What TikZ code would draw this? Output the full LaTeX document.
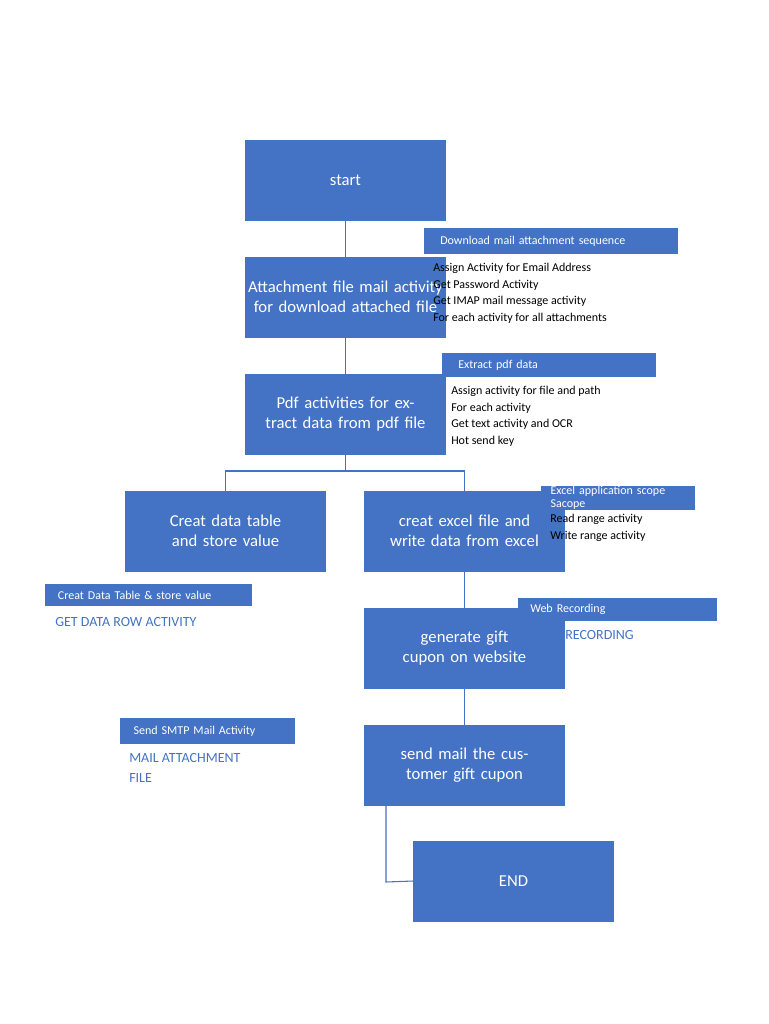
\documentclass[tikz,border=0pt]{standalone}
\usepackage{fontspec}
\setmainfont{Carlito}
\begin{document}
\begin{tikzpicture}[x=0.75pt,y=-0.75pt]
    % Define colors
    \definecolor{boxblue}{RGB}{68,114,196}

    % Define styles
    \tikzstyle{stage} = [rectangle, fill=boxblue, draw=boxblue, minimum width=146pt, minimum height=60pt, text width=150pt, align=center, inner sep=0pt, text=white, font=\fontsize{12.5}{15}\selectfont]
    \tikzstyle{tag} = [rectangle, fill=boxblue, anchor=north west, inner sep=0pt, text=white, font=\fontsize{9}{10}\selectfont]
    \tikzstyle{note} = [anchor=north west, inner sep=0pt, align=left, font=\fontsize{9}{12.4}\selectfont]
    \tikzstyle{blue note} = [note, text=boxblue, font=\fontsize{10.5}{15}\selectfont]
    \tikzstyle{link} = [draw=boxblue, thick]

    \useasboundingbox (0,0) rectangle (768,1024);

    % Main steps
    \node[stage] (start) at (345.5,180) {start};
    \node[stage] (attach) at (345.5,297) {Attachment file mail activity for download attached file};
    \node[stage] (pdf) at (345.5,414) {Pdf activities for extract data from pdf file};
    \node[stage] (table) at (225.5,531) {Creat data table and store value};
    \node[stage] (excel) at (464.5,531) {creat excel file and write data from excel};
    \node[stage] (gift) at (464.5,648) {generate gift cupon on website};
    \node[stage] (mail) at (464.5,765) {send mail the customer gift cupon};
    \node[stage] (end) at (513.5,881) {END};
    \coordinate (split) at (345.5,471);
    \coordinate (bend) at (386,882);

    % Connectors
    \draw[link] (start) -- (attach);
    \draw[link] (attach) -- (pdf);
    \draw[link] (pdf) -- (split);
    \draw[link] (table.north) |- (split) -| (excel.north);
    \draw[link] (excel) -- (gift);
    \draw[link] (gift) -- (mail);
    \draw[link] (mail.south -| bend) -- (bend) -- (end.west);

    % Activity tags
    \node[tag, minimum width=190pt, minimum height=19.5pt, text width=180pt] (tag_download) at (424,228) {\hspace*{7pt}Download mail attachment sequence};
    \node[note] (note_download) at (433,263) {Assign Activity for Email Address\\Get Password Activity\\Get IMAP mail message activity\\For each activity for all attachments};
    \node[tag, minimum width=160pt, minimum height=18pt, text width=150pt] (tag_pdf) at (442,353) {\hspace*{7pt}Extract pdf data};
    \node[note] (note_pdf) at (451,386) {Assign activity for file and path\\For each activity\\Get text activity and OCR\\Hot send key};
    \node[tag, minimum width=115pt, minimum height=17pt, text width=115pt, align=left] (tag_excel) at (541,486) {\hspace*{7pt}Excel application scope\\\hspace*{7pt}Sacope};
    \node[note] (note_excel) at (550,514) {Read range activity\\Write range activity};
    \node[tag, minimum width=155pt, minimum height=16.5pt, text width=150pt] (tag_table) at (45,584) {\hspace*{7pt}Creat Data Table \& store value};
    \node[blue note] (note_table) at (55,617) {GET DATA ROW ACTIVITY};
    \node[tag, minimum width=149pt, minimum height=17pt, text width=145pt] (tag_web) at (518,598) {\hspace*{7pt}Web Recording};
    \node[blue note] (note_web) at (565,630) {RECORDING};
    \node[tag, minimum width=131pt, minimum height=19.5pt, text width=125pt] (tag_smtp) at (120,718) {\hspace*{7pt}Send SMTP Mail Activity};
    \node[blue note] (note_smtp) at (129,753) {MAIL ATTACHMENT\\FILE};
\end{tikzpicture}
\end{document}
